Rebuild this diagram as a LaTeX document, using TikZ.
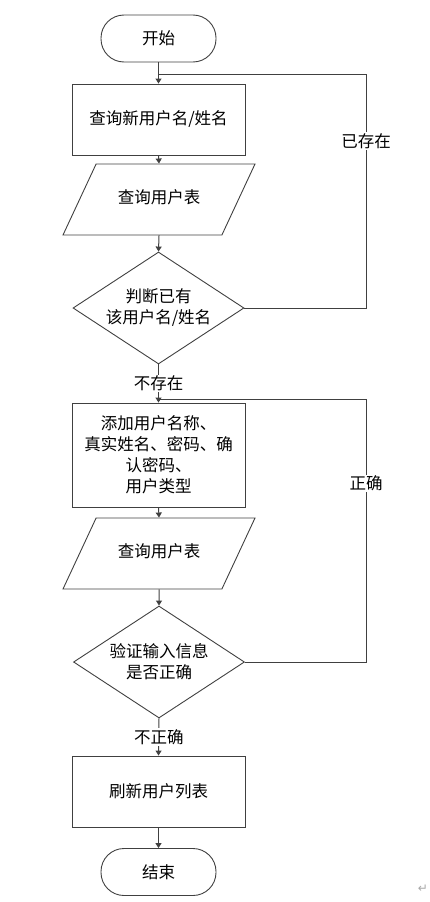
\documentclass[tikz,border=0pt]{standalone}
\usepackage{fontspec}
\usepackage{xcolor}
\usepackage{tikz}
\usetikzlibrary{shapes.geometric, arrows.meta}
\newfontfamily\cjk{Noto Sans CJK SC}
\newfontfamily\symfont{DejaVu Sans}
\definecolor{lineg}{HTML}{404040}
\definecolor{markg}{HTML}{A8A8A8}

\begin{document}
\begin{tikzpicture}[
  x=1pt, y=-1pt,
  font=\cjk\fontsize{16.5}{21}\selectfont,
  >={Triangle[length=5pt, width=6pt]},
  term/.style={draw=lineg, line width=0.9pt, rounded corners=23pt,
               minimum width=115pt, minimum height=47pt, inner sep=0pt},
  proc/.style={draw=lineg, line width=0.9pt, rectangle, align=center,
               minimum width=173pt, minimum height=71pt, inner sep=2pt},
  io/.style={draw=lineg, line width=0.9pt, trapezium, trapezium left angle=65,
             trapezium right angle=115, trapezium stretches body,
             text height=10pt, text depth=3pt, inner xsep=0pt, inner ysep=29pt,
             minimum width=192pt},
  test/.style={draw=lineg, line width=0.9pt, diamond, aspect=1.53, align=center,
               minimum width=171pt, minimum height=112pt, inner sep=-2pt},
  flow/.style={draw=lineg, line width=1pt, ->},
  back/.style={draw=lineg, line width=1pt},
  lbl/.style={fill=white, inner sep=1pt}
]
\useasboundingbox (0,0) rectangle (430,902);

% ---- Part 1: check user name ----
\node[term] (start) at (158.5,38.5) {开始};
\node[proc] (query) at (158.5,119.5) {查询新用户名/姓名};
\node[io]   (tab1)  at (159,199.5) {查询用户表};
\node[test] (exist) at (158.5,308) {判断已有\\该用户名/姓名};

\coordinate (j1)  at (159,74);
\coordinate (j1r) at (366,74);

\draw[flow] (start.south) -- (query.north);
\draw[flow] (query.south) -- (tab1.north);
\draw[flow] (tab1.south)  -- (exist.north);
\draw[back] (exist.east) -| (j1r)
  node[lbl, pos=0.857] {已存在} -- (j1);

% ---- Part 2: add and verify ----
\node[proc, minimum height=104pt] (add) at (158.5,455)
  {添加用户名称、\\真实姓名、密码、确\\认密码、\\用户类型};
\node[io]   (tab2)  at (159,553.5) {查询用户表};
\node[test] (check) at (159,662) {验证输入信息\\是否正确};

\coordinate (j2)  at (159,399);
\coordinate (j2r) at (366,399);

\draw[flow] (exist.south) -- (add.north)
  node[lbl, midway] {不存在};
\draw[flow] (add.south)  -- (tab2.north);
\draw[flow] (tab2.south) -- (check.north);
\draw[back] (check.east) -| (j2r)
  node[lbl, pos=0.84] {正确} -- (j2);

% ---- Part 3: refresh and end ----
\node[proc] (refresh) at (158.5,791.5) {刷新用户列表};
\node[term] (stop)    at (158.5,872) {结束};

\draw[flow] (check.south)   -- (refresh.north)
  node[lbl, midway] {不正确};
\draw[flow] (refresh.south) -- (stop.north);

% paragraph mark
\node[font=\symfont\fontsize{12}{12}\selectfont, text=markg] (pmark) at (423,889) {↵};

\end{tikzpicture}
\end{document}
